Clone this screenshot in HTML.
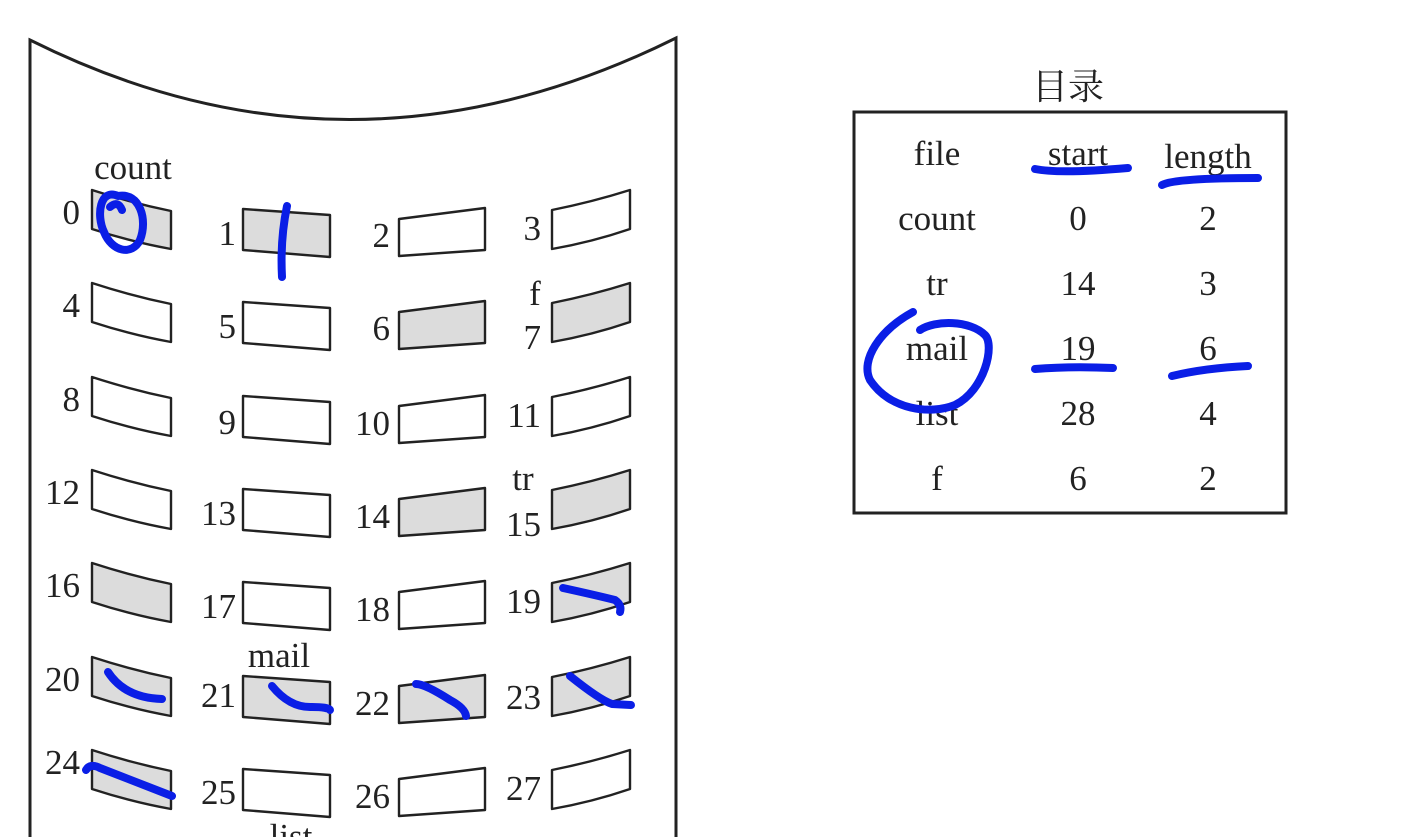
<!DOCTYPE html>
<html><head><meta charset="utf-8"><style>
html,body{margin:0;padding:0;background:#fff;}
svg{display:block;}
text{font-family:"Liberation Serif","Noto Serif CJK SC",serif;font-size:35px;fill:#222;}
.b{stroke:#222;stroke-width:2.4;stroke-linejoin:round;}
.w{fill:#fff;} .s{fill:#dcdcdc;}
.n{text-anchor:end;}
.c{text-anchor:middle;}
.blue{fill:none;stroke:#0a1ee6;stroke-width:8;stroke-linecap:round;stroke-linejoin:round;}
</style></head><body>
<svg width="1422" height="837" viewBox="0 0 1422 837" xmlns="http://www.w3.org/2000/svg">
<defs>
<path id="c0" d="M92,0 Q132,13 171,21 L171,59 Q132,52 92,39 Z"/>
<path id="c1" d="M243,19 L330,25 L330,67 L243,60 Z"/>
<path id="c2" d="M399,29 L485,18 L485,60 L399,66 Z"/>
<path id="c3" d="M552,20 Q592,12 630,0 L630,39 Q592,52 552,59 Z"/>
</defs>
<path d="M30,837 L30,40 Q350,200 676,38 L676,837" fill="none" stroke="#222" stroke-width="3"/>

<g transform="translate(0,190)">
<use href="#c0" class="b s"/><use href="#c1" class="b s"/><use href="#c2" class="b w"/><use href="#c3" class="b w"/>
<text x="80" y="34" class="n">0</text><text x="236" y="55" class="n">1</text><text x="390" y="57" class="n">2</text><text x="541" y="50" class="n">3</text>
<text x="133" y="-11" class="c">count</text>
</g>
<g transform="translate(0,283)">
<use href="#c0" class="b w"/><use href="#c1" class="b w"/><use href="#c2" class="b s"/><use href="#c3" class="b s"/>
<text x="80" y="34" class="n">4</text><text x="236" y="55" class="n">5</text><text x="390" y="57" class="n">6</text><text x="541" y="66" class="n">7</text>
<text x="535" y="22" class="c">f</text>
</g>
<g transform="translate(0,377)">
<use href="#c0" class="b w"/><use href="#c1" class="b w"/><use href="#c2" class="b w"/><use href="#c3" class="b w"/>
<text x="80" y="34" class="n">8</text><text x="236" y="57" class="n">9</text><text x="390" y="58" class="n">10</text><text x="541" y="50" class="n">11</text>
</g>
<g transform="translate(0,470)">
<use href="#c0" class="b w"/><use href="#c1" class="b w"/><use href="#c2" class="b s"/><use href="#c3" class="b s"/>
<text x="80" y="34" class="n">12</text><text x="236" y="55" class="n">13</text><text x="390" y="58" class="n">14</text><text x="541" y="66" class="n">15</text>
<text x="523" y="20" class="c">tr</text>
</g>
<g transform="translate(0,563)">
<use href="#c0" class="b s"/><use href="#c1" class="b w"/><use href="#c2" class="b w"/><use href="#c3" class="b s"/>
<text x="80" y="34" class="n">16</text><text x="236" y="55" class="n">17</text><text x="390" y="58" class="n">18</text><text x="541" y="50" class="n">19</text>
</g>
<g transform="translate(0,657)">
<use href="#c0" class="b s"/><use href="#c1" class="b s"/><use href="#c2" class="b s"/><use href="#c3" class="b s"/>
<text x="80" y="34" class="n">20</text><text x="236" y="50" class="n">21</text><text x="390" y="58" class="n">22</text><text x="541" y="52" class="n">23</text>
<text x="279" y="10" class="c">mail</text>
</g>
<g transform="translate(0,750)">
<use href="#c0" class="b s"/><use href="#c1" class="b w"/><use href="#c2" class="b w"/><use href="#c3" class="b w"/>
<text x="80" y="24" class="n">24</text><text x="236" y="54" class="n">25</text><text x="390" y="58" class="n">26</text><text x="541" y="50" class="n">27</text>
<text x="291" y="98" class="c">list</text>
</g>

<text x="1068" y="99" class="c" style="font-size:36px">目录</text>
<rect x="854" y="112" width="432" height="401" fill="none" stroke="#222" stroke-width="3"/>
<g class="c">
<text x="937" y="165" class="c">file</text><text x="1078" y="165" class="c">start</text><text x="1208" y="168" class="c">length</text>
<text x="937" y="230" class="c">count</text><text x="1078" y="230" class="c">0</text><text x="1208" y="230" class="c">2</text>
<text x="937" y="295" class="c">tr</text><text x="1078" y="295" class="c">14</text><text x="1208" y="295" class="c">3</text>
<text x="937" y="360" class="c">mail</text><text x="1078" y="360" class="c">19</text><text x="1208" y="360" class="c">6</text>
<text x="937" y="425" class="c">list</text><text x="1078" y="425" class="c">28</text><text x="1208" y="425" class="c">4</text>
<text x="937" y="490" class="c">f</text><text x="1078" y="490" class="c">6</text><text x="1208" y="490" class="c">2</text>
</g>

<!-- blue annotations -->
<path class="blue" d="M110,207 Q118,200 122,210 M118,196 C100,188 96,215 104,232 C112,252 132,256 140,240 C148,220 140,192 118,196"/>
<path class="blue" d="M287,206 Q280,240 282,277"/>
<path class="blue" d="M1035,169 Q1060,174 1128,168"/>
<path class="blue" d="M1162,185 Q1175,178 1258,178"/>
<path class="blue" d="M913,312 C880,330 860,360 870,380 C890,410 930,415 955,405 C985,390 995,345 985,335 C970,320 935,320 920,330"/>
<path class="blue" d="M1035,369 Q1070,366 1113,368"/>
<path class="blue" d="M1172,376 Q1205,368 1248,366"/>
<path class="blue" d="M563,588 Q595,595 615,600 Q622,605 620,612"/>
<path class="blue" d="M108,672 Q125,698 162,699"/>
<path class="blue" d="M272,686 Q290,708 312,707 Q328,707 330,710"/>
<path class="blue" d="M416,684 Q425,684 450,700 Q465,708 466,716"/>
<path class="blue" d="M570,676 Q600,700 612,704 L631,705"/>
<path class="blue" d="M86,770 Q90,763 100,768 L172,796"/>
</svg>
</body></html>
